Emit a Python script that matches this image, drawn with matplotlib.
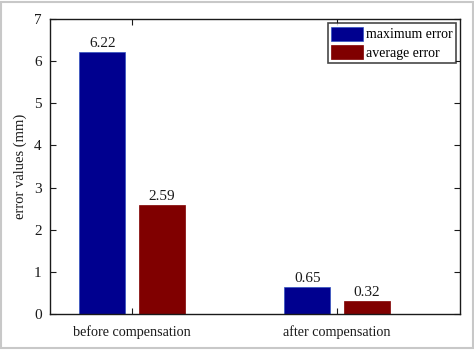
import matplotlib
matplotlib.use("Agg")
import matplotlib.pyplot as plt
from matplotlib.patches import Rectangle
import numpy as np

categories = ["before compensation", "after compensation"]
series_names = ["maximum error", "average error"]
max_error = [6.22, 0.65]
avg_error = [2.59, 0.32]
yticks = [0, 1, 2, 3, 4, 5, 6, 7]

plt.rcParams["font.family"] = ["Liberation Serif", "DejaVu Serif"]

fig = plt.figure(figsize=(4.74, 3.5), dpi=100)
ax = fig.add_axes([50 / 474, 1 - 314 / 350, 410 / 474, 295 / 350])

x = np.arange(1, len(categories) + 1)
w = 0.225
off = 0.145
b1 = ax.bar(x - off, max_error, w, color="#00008F", edgecolor="#3050c0", linewidth=0.5, label=series_names[0])
b2 = ax.bar(x + off, avg_error, w, color="#800000", edgecolor="#800000", linewidth=0.5, label=series_names[1])

for bars, vals in ((b1, max_error), (b2, avg_error)):
    for r, v in zip(bars, vals):
        ax.text(r.get_x() + r.get_width() / 2, v + 0.04, f"{v:.2f}",
                ha="center", va="bottom", fontsize=11, color="#1a1a1a")

ax.set_xlim(0.6, 2.6)
ax.set_ylim(0, 7)
ax.set_yticks(yticks)
ax.set_xticks(x)
ax.set_xticklabels(categories)
ax.tick_params(direction="in", top=True, right=True, labelsize=11, length=4, width=0.8, pad=6, colors="#1a1a1a")
ax.tick_params(axis="x", pad=8, labelsize=10.2)
for s in ax.spines.values():
    s.set_linewidth(1.0)
    s.set_color("#1a1a1a")
ax.set_ylabel("error values (mm)", fontsize=10.5, color="#1a1a1a", labelpad=5)

leg = ax.legend(loc="upper right", fontsize=10, frameon=True, fancybox=False,
                edgecolor="#1a1a1a", borderaxespad=0.3, handlelength=2.3,
                handleheight=1.2, handletextpad=0.2, labelspacing=0.25,
                borderpad=0.25)
leg.get_frame().set_linewidth(1.2)

fig.patches.append(Rectangle((0.003, 0.006), 0.994, 0.988, transform=fig.transFigure,
                             fill=False, edgecolor="#c8c8c8", linewidth=1.5))

fig.savefig("out.png", dpi=100)
